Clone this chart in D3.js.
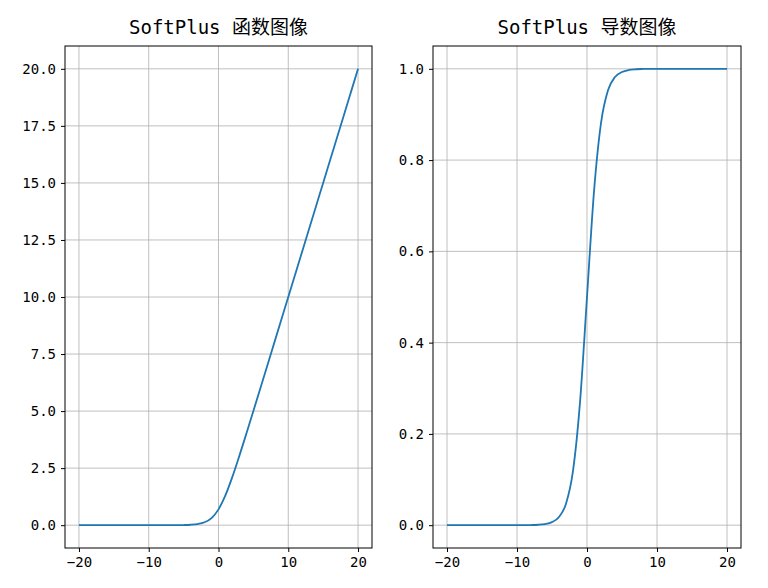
<!DOCTYPE html>
<html><head><meta charset="utf-8">
<script src="https://cdn.jsdelivr.net/npm/d3@7"></script>
<style>body{margin:0;background:#fff}text{font-family:"DejaVu Sans Mono","Noto Sans CJK SC",monospace}</style>
</head><body><svg width="768" height="588"></svg>
<script>
const xs = [-20,-19,-18,-17,-16,-15,-14,-13,-12,-11,-10,-9,-8,-7,-6,-5,-4,-3,-2,-1,0,1,2,3,4,5,6,7,8,9,10,11,12,13,14,15,16,17,18,19,20];
const softplusVals = [0,0,0,0,0,0,0,0,0,0,0,0,0.001,0.001,0.0025,0.0067,0.018,0.049,0.127,0.313,0.693,1.313,2.127,3.049,4.018,5.007,6.002,7,8,9,10,11,12,13,14,15,16,17,18,19,20];
const derivVals = [0,0,0,0,0,0,0,0,0,0,0,0,0.0003,0.0009,0.0025,0.0067,0.018,0.047,0.119,0.269,0.5,0.731,0.881,0.953,0.982,0.993,0.9975,0.9991,0.9997,1,1,1,1,1,1,1,1,1,1,1,1];
const leftTicks = [0,2.5,5,7.5,10,12.5,15,17.5,20];
const rightTicks = [0,0.2,0.4,0.6,0.8,1.0];
const xTicks = [-20,-10,0,10,20];
const svg = d3.select("svg");

function panel(x0, x1, title, vals, yDom, yTicks) {
  const top = 46, bottom = 548;
  const x = d3.scaleLinear().domain([-22, 22]).range([x0, x1]);
  const y = d3.scaleLinear().domain(yDom).range([bottom, top]);
  const g = svg.append("g");
  // grid
  g.selectAll(".gx").data(xTicks).enter().append("line")
    .attr("x1", d => x(d)).attr("x2", d => x(d)).attr("y1", top).attr("y2", bottom)
    .attr("stroke", "#b0b0b0").attr("stroke-width", 0.8);
  g.selectAll(".gy").data(yTicks).enter().append("line")
    .attr("y1", d => y(d)).attr("y2", d => y(d)).attr("x1", x0).attr("x2", x1)
    .attr("stroke", "#b0b0b0").attr("stroke-width", 0.8);
  const line = d3.line().x((d, i) => x(xs[i])).y(d => y(d)).curve(d3.curveMonotoneX);
  g.append("path").datum(vals).attr("d", line).attr("fill", "none")
    .attr("stroke", "#1f77b4").attr("stroke-width", 1.8);
  g.append("rect").attr("x", x0).attr("y", top).attr("width", x1 - x0).attr("height", bottom - top)
    .attr("fill", "none").attr("stroke", "#000").attr("stroke-width", 1);
  g.append("g").attr("transform", `translate(0,${bottom})`)
    .call(d3.axisBottom(x).tickValues(xTicks).tickSize(4).tickPadding(5).tickFormat(d => d < 0 ? "\u2212" + (-d) : d))
    .call(a => a.select(".domain").remove()).selectAll("text").attr("font-size", 14).attr("fill", "#000");
  g.append("g").attr("transform", `translate(${x0},0)`)
    .call(d3.axisLeft(y).tickValues(yTicks).tickSize(4).tickPadding(5).tickFormat(d3.format(".1f")))
    .call(a => a.select(".domain").remove()).selectAll("text").attr("font-size", 14).attr("fill", "#000");
  svg.append("text").attr("x", (x0 + x1) / 2).attr("y", 34).attr("text-anchor", "middle")
    .attr("font-size", 19).text(title);
}
panel(65, 372, "SoftPlus 函数图像", softplusVals, [-1, 21], leftTicks);
panel(433, 741, "SoftPlus 导数图像", derivVals, [-0.05, 1.05], rightTicks);
</script></body></html>
